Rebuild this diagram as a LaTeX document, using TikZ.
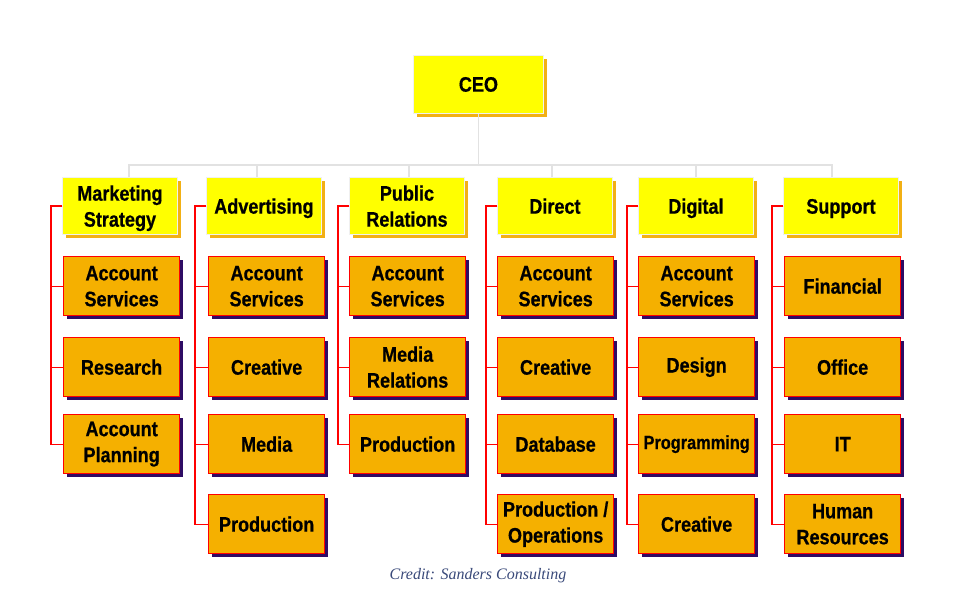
\documentclass[tikz,border=0pt]{standalone}
\usepackage{fontspec}
\newfontfamily\boxfont{Liberation Sans}[FakeStretch=0.86, BoldFeatures={FakeBold=0.6}]
\newfontfamily\creditfont{Liberation Serif}
\usetikzlibrary{shadows}
\definecolor{hdrfill}{RGB}{255,255,0}
\definecolor{hdrshadow}{RGB}{242,176,20}
\definecolor{kidfill}{RGB}{245,176,0}
\definecolor{kidshadow}{RGB}{46,12,100}
\definecolor{buscol}{RGB}{226,226,226}
\definecolor{creditcol}{RGB}{58,74,122}
\newcommand\hdrtxt[1]{\raisebox{-2.5pt}[\height][\depth]{\begin{tabular}{@{}c@{}}#1\end{tabular}}}
\begin{document}
\begin{tikzpicture}[x=1pt,y=-1pt,
  hdr/.style={draw=white!88!gray, line width=0.9pt, fill=hdrfill, anchor=north west,
    minimum width=115pt, minimum height=57pt, inner sep=0pt,
    font=\boxfont\bfseries\fontsize{21}{26}\selectfont,
    general shadow={fill=hdrshadow, shadow xshift=3.5pt, shadow yshift=-3.5pt}},
  kid/.style={draw=red, line width=1.3pt, fill=kidfill, anchor=north west,
    minimum width=116pt, minimum height=59pt, inner sep=0pt, align=center,
    font=\boxfont\bfseries\fontsize{21}{26}\selectfont,
    general shadow={fill=kidshadow, shadow xshift=3.5pt, shadow yshift=-3.5pt}},
  bus/.style={draw=buscol, line width=1.2pt},
  redline/.style={draw=red, line width=1.3pt}]
\useasboundingbox (0,0) rectangle (955,613);

% CEO
\node[hdr, minimum width=130pt, minimum height=58pt] (ceo) at (413,55) {CEO};

% headers
\node[hdr] (h1) at (62,177) {\hdrtxt{Marketing\\Strategy}};
\node[hdr] (h2) at (206,177) {\hdrtxt{Advertising}};
\node[hdr] (h3) at (349,177) {\hdrtxt{Public\\Relations}};
\node[hdr] (h4) at (497,177) {\hdrtxt{Direct}};
\node[hdr] (h5) at (638,177) {\hdrtxt{Digital}};
\node[hdr] (h6) at (783,177) {\hdrtxt{Support}};

% column 1
\node[kid] (c1a) at (63,256) {Account\\Services};
\node[kid] (c1b) at (63,337) {Research};
\node[kid] (c1c) at (63,414) {Account\\Planning};
% column 2
\node[kid] (c2a) at (208,256) {Account\\Services};
\node[kid] (c2b) at (208,337) {Creative};
\node[kid] (c2c) at (208,414) {Media};
\node[kid] (c2d) at (208,494) {Production};
% column 3
\node[kid] (c3a) at (349,256) {Account\\Services};
\node[kid] (c3b) at (349,337) {Media\\Relations};
\node[kid] (c3c) at (349,414) {Production};
% column 4
\node[kid] (c4a) at (497,256) {Account\\Services};
\node[kid] (c4b) at (497,337) {Creative};
\node[kid] (c4c) at (497,414) {Database};
\node[kid] (c4d) at (497,494) {Production /\\Operations};
% column 5
\node[kid] (c5a) at (638,256) {Account\\Services};
\node[kid] (c5b) at (638,337) {Design};
\node[kid, font=\boxfont\bfseries\fontsize{19}{24}\selectfont] (c5c) at (638,414) {Programming};
\node[kid] (c5d) at (638,494) {Creative};
% column 6
\node[kid] (c6a) at (784,256) {Financial};
\node[kid] (c6b) at (784,337) {Office};
\node[kid] (c6c) at (784,414) {IT};
\node[kid] (c6d) at (784,494) {Human\\Resources};

% gray bus from CEO
\draw[bus] ([xshift=9pt]h1.north) -- ++(0,-12) -| (ceo.south);
\draw[bus] ([xshift=-7pt]h2.north) -- ++(0,-12) -| (ceo.south);
\draw[bus] ([xshift=2pt]h3.north) -- ++(0,-12) -| (ceo.south);
\draw[bus] ([xshift=-3pt]h4.north) -- ++(0,-12) -| (ceo.south);
\draw[bus] ([xshift=0pt]h5.north) -- ++(0,-12) -| (ceo.south);
\draw[bus] ([xshift=-9pt]h6.north) -- ++(0,-12) -| (ceo.south);

% red connectors
\foreach \h/\kids in {h1/{c1a,c1b,c1c}, h2/{c2a,c2b,c2c,c2d}, h3/{c3a,c3b,c3c},
                      h4/{c4a,c4b,c4c,c4d}, h5/{c5a,c5b,c5c,c5d}, h6/{c6a,c6b,c6c,c6d}}{
  \foreach \k in \kids {
    \draw[redline] (\h.west) -- ++(-11,0) |- (\k.west);
  }
}

% credit
\node[font=\creditfont\itshape\fontsize{16}{19}\selectfont, text=creditcol] (credit) at (478,576) {Credit: Sanders Consulting};
\end{tikzpicture}
\end{document}
